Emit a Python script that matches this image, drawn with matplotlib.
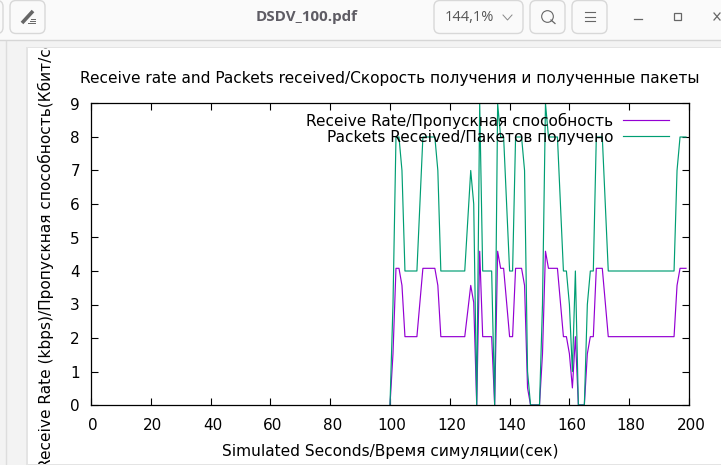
import matplotlib
matplotlib.use("Agg")
import matplotlib.pyplot as plt
from matplotlib.patches import Rectangle, FancyBboxPatch
from matplotlib.transforms import ScaledTranslation

seconds = list(range(100, 200))
packets = [0, 3, 8, 8, 7, 4, 4, 4, 4, 4, 6, 8, 8, 8, 8, 8, 7, 4, 4, 4,
           4, 4, 4, 4, 4, 4, 5.5, 7, 6, 0, 9, 4, 4, 4, 4, 0, 9, 8, 8, 6,
           4, 4, 8, 8, 8, 7, 1, 0, 0, 0, 0, 3, 9, 8, 8, 8, 8, 6, 4, 4,
           3, 1, 4, 0, 0, 0, 3, 4, 4, 8, 8, 8, 6, 4, 4, 4, 4, 4, 4, 4,
           4, 4, 4, 4, 4, 4, 4, 4, 4, 4, 4, 4, 4, 4, 4, 4, 7, 8, 8, 8]
rate = [0, 1.53, 4.08, 4.08, 3.57, 2.04, 2.04, 2.04, 2.04, 2.04, 3.06, 4.08, 4.08, 4.08, 4.08, 4.08, 3.57, 2.04, 2.04, 2.04,
        2.04, 2.04, 2.04, 2.04, 2.04, 2.04, 2.8, 3.57, 3.06, 0, 4.59, 2.04, 2.04, 2.04, 2.04, 0, 4.59, 4.08, 4.08, 3.06,
        2.04, 2.04, 4.08, 4.08, 4.08, 3.57, 0.51, 0, 0, 0, 0, 1.53, 4.59, 4.08, 4.08, 4.08, 4.08, 3.06, 2.04, 2.04,
        1.53, 0.51, 2.04, 0, 0, 0, 1.53, 2.04, 2.04, 4.08, 4.08, 4.08, 3.06, 2.04, 2.04, 2.04, 2.04, 2.04, 2.04, 2.04,
        2.04, 2.04, 2.04, 2.04, 2.04, 2.04, 2.04, 2.04, 2.04, 2.04, 2.04, 2.04, 2.04, 2.04, 2.04, 2.04, 3.57, 4.08, 4.08, 4.08]
x_ticks = list(range(0, 201, 20))
y_ticks = list(range(0, 10))
title = "Receive rate and Packets received/Скорость получения и полученные пакеты"
x_label = "Simulated Seconds/Время симуляции(сек)"
y_label = "Receive Rate (kbps)/Пропускная способность(Кбит/сек)"
rate_label = "Receive Rate/Пропускная способность"
packets_label = "Packets Received/Пакетов получено"

W, H = 721, 465
plt.rcParams['font.family'] = 'DejaVu Sans'
fig = plt.figure(figsize=(W / 100, H / 100), dpi=100, facecolor='#f3f3f3')

# Viewer window chrome, in pixel coordinates
bg = fig.add_axes([0, 0, 1, 1], zorder=0)
bg.set_xlim(0, W); bg.set_ylim(H, 0); bg.axis('off')
bg.add_patch(Rectangle((0, 0), W, 40, fc='#fafafa', ec='none'))
bg.plot([0, W], [40.5, 40.5], color='#d6d6d6', lw=1)
bg.plot([5.5, 5.5], [41, H], color='#dddddd', lw=1)
bg.add_patch(Rectangle((26, 47), 695, 418, fc='#e4e4e4', ec='none'))
page = Rectangle((28, 48), 693, 416, fc='white', ec='none')
bg.add_patch(page)
for x0, x1 in [(-20, 3), (10, 45), (434, 523), (530, 565), (572, 607)]:
    bg.add_patch(FancyBboxPatch((x0, 0.5), x1 - x0, 33, boxstyle="round,pad=0,rounding_size=6",
                                fc='#fafafa', ec='#d8d8d8', lw=1))
bg.text(307, 17, "DSDV_100.pdf", ha='center', va='center', fontsize=10.9, fontweight='bold',
        family='Open Sans', color='#5e5c64')
bg.text(469, 17.5, "144,1%", ha='center', va='center', fontsize=10.5, family='Open Sans', color='#555555')
bg.plot([503, 507.5, 512], [15, 20, 15], color='#888888', lw=0.7)
bg.plot([547], [16], marker='o', ms=8.4, mfc='none', mec='#666666', mew=0.8)
bg.plot([551, 555], [20, 23.5], color='#666666', lw=0.9)
for yy in (12.5, 17, 21.5):
    bg.plot([585, 595], [yy, yy], color='#666666', lw=0.8)
bg.plot([634, 642], [19.5, 19.5], color='#666666', lw=0.9)
bg.add_patch(Rectangle((674, 13), 7, 7, fc='none', ec='#666666', lw=0.9))
bg.plot([714, 720], [13, 20], color='#666666', lw=0.9)
bg.plot([714, 720], [20, 13], color='#666666', lw=0.9)
bg.plot([22, 33], [23, 11], color='#666666', lw=2.6, solid_capstyle='butt')
for yy, xs in ((19, 31), (21, 30), (23, 28)):
    bg.plot([xs, 35], [yy, yy], color='#666666', lw=0.7)

ax = fig.add_axes([91 / W, 1 - 405 / H, (689 - 91) / W, (405 - 103.5) / H], zorder=1)
ax.patch.set_alpha(0)
ax.plot(seconds, rate, color='#9400D3', lw=0.85, label=rate_label)
ax.plot(seconds, packets, color='#009E73', lw=0.85, label=packets_label)
ax.set_xlim(0, 200); ax.set_ylim(0, 9)
ax.set_xticks(x_ticks); ax.set_yticks(y_ticks)
ax.tick_params(direction='in', top=True, right=True, length=5, width=0.8, labelsize=11, color='black')
ax.tick_params(axis='x', pad=9)
ax.tick_params(axis='y', pad=8)
shift = ScaledTranslation(2 / 100, 0, fig.dpi_scale_trans)
for lab in ax.get_xticklabels():
    lab.set_transform(lab.get_transform() + shift)
for s in ax.spines.values():
    s.set_linewidth(0.9)
bg.text(390, 78, title, ha='center', va='center', fontsize=11.05, color='black')
bg.text(390, 451, x_label, ha='center', va='center', fontsize=11.05, color='black')
yl = bg.text(46, 246, y_label, rotation=90, ha='center', va='center', fontsize=11.05, color='black', clip_on=True)
yl.set_clip_path(page)
leg = ax.legend(loc='upper right', bbox_to_anchor=((669 - 91) / 598, 1 - 9 / 301.5), frameon=False,
                markerfirst=False, fontsize=11, handlelength=3.0, labelspacing=0.07,
                borderpad=0, borderaxespad=0, handletextpad=0.65)
fig.savefig('out.png', dpi=100, facecolor=fig.get_facecolor())
